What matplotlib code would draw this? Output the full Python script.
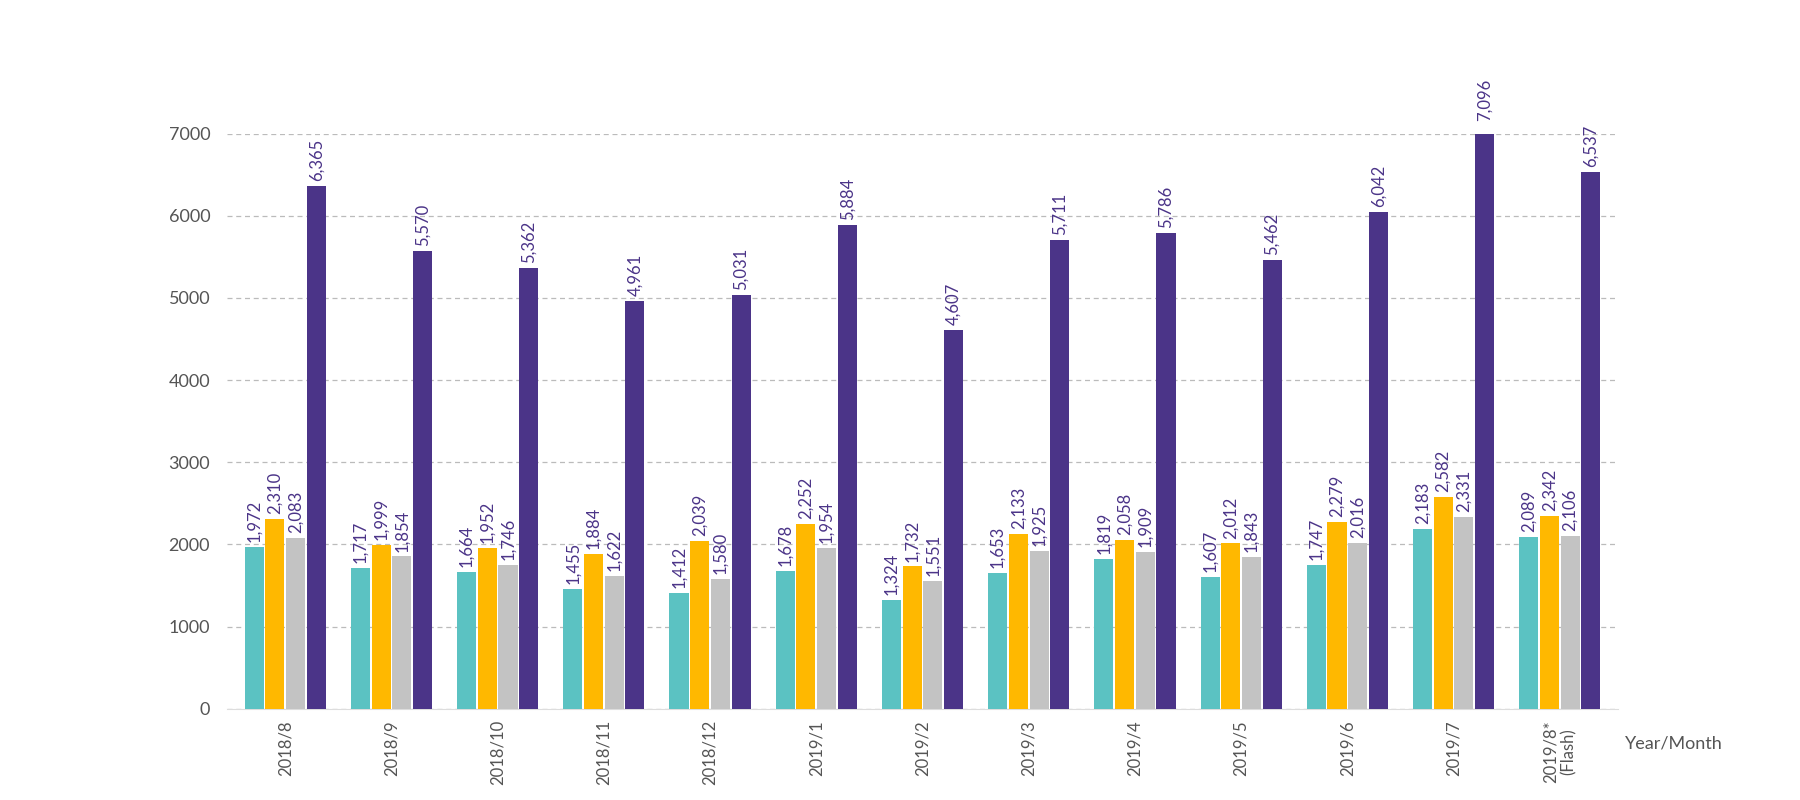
import matplotlib
matplotlib.use("Agg")
import matplotlib.pyplot as plt
import numpy as np

categories = ["2018/8","2018/9","2018/10","2018/11","2018/12","2019/1","2019/2","2019/3","2019/4","2019/5","2019/6","2019/7","2019/8*\n(Flash)"]
teal = [1972,1717,1664,1455,1412,1678,1324,1653,1819,1607,1747,2183,2089]
orange = [2310,1999,1952,1884,2039,2252,1732,2133,2058,2012,2279,2582,2342]
gray = [2083,1854,1746,1622,1580,1954,1551,1925,1909,1843,2016,2331,2106]
purple = [6365,5570,5362,4961,5031,5884,4607,5711,5786,5462,6042,7096,6537]

plt.rcParams["font.family"] = "Lato"
fig = plt.figure(figsize=(18, 8), dpi=100)
ax = fig.add_axes([0.126, 0.114, 0.773, 0.719])
x = np.arange(len(categories))
w = 0.195
series = [(teal, "#5BC2C2"), (orange, "#FFB800"), (gray, "#C3C3C3"), (purple, "#4B3488")]
txtc = "#4B3488"
for i, (vals, c) in enumerate(series):
    xs = x + (i - 1.5) * w
    ax.bar(xs, vals, width=w * 0.92, color=c, zorder=3)
    for xi, v in zip(xs, vals):
        ax.text(xi, v + 60, f"{v:,}", rotation=90, ha="center", va="bottom",
                fontsize=12, color=txtc, clip_on=False)
ax.set_ylim(0, 7000)
ax.set_xlim(-0.55, len(categories) - 0.45)
ax.set_yticks(range(0, 7001, 1000))
ax.set_xticks(x)
ax.set_xticklabels(categories, rotation=90, fontsize=12, color="#555555")
ax.tick_params(axis="y", labelsize=13, colors="#555555", length=0, pad=12)
ax.tick_params(axis="x", length=0, pad=8)
ax.grid(axis="y", color="#BBBBBB", linestyle=(0, (4, 3)), linewidth=0.9, zorder=0)
for s in ["top", "right", "left"]:
    ax.spines[s].set_visible(False)
ax.spines["bottom"].set_color("#DDDDDD")
ax.text(1.005, -0.06, "Year/Month", transform=ax.transAxes, fontsize=13,
        color="#555555", ha="left", va="center")
fig.savefig("out.png", dpi=100)
